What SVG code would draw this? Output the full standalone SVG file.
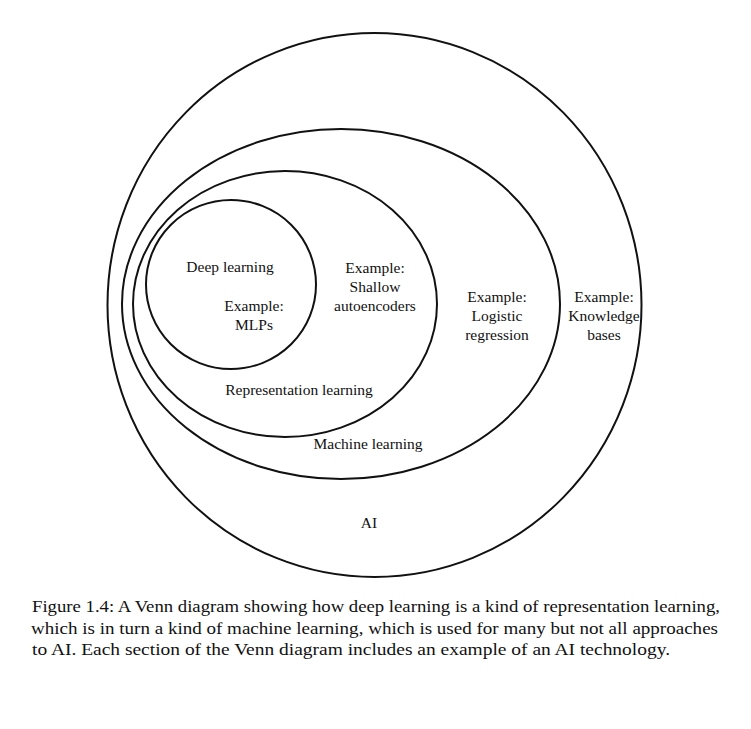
<svg xmlns="http://www.w3.org/2000/svg" width="751" height="729" viewBox="0 0 751 729">
<style>
.e{fill:none;stroke:#111;stroke-width:2}
.t{font-family:"Liberation Serif","Times New Roman",serif;font-size:15.5px;fill:#111;text-anchor:middle}
.c{font-family:"Liberation Serif","Times New Roman",serif;font-size:17px;fill:#111}
</style>
<rect width="751" height="729" fill="#fff"/>
<g id="ai">
<ellipse class="e" cx="374.5" cy="305" rx="267" ry="272"/>
<text class="t" x="369" y="528">AI</text>
<text class="t" x="604" y="302">Example:</text>
<text class="t" x="604" y="321">Knowledge</text>
<text class="t" x="604" y="340">bases</text>
</g>
<g id="ml">
<ellipse class="e" cx="341" cy="304" rx="219" ry="175"/>
<text class="t" x="368" y="449">Machine learning</text>
<text class="t" x="497" y="302">Example:</text>
<text class="t" x="497" y="321">Logistic</text>
<text class="t" x="497" y="340">regression</text>
</g>
<g id="rl">
<ellipse class="e" cx="285" cy="304" rx="152" ry="133"/>
<text class="t" x="299" y="395">Representation learning</text>
<text class="t" x="375" y="273">Example:</text>
<text class="t" x="375" y="292">Shallow</text>
<text class="t" x="375" y="311">autoencoders</text>
</g>
<g id="dl">
<ellipse class="e" cx="231" cy="284.5" rx="85" ry="84.5"/>
<text class="t" x="230" y="272">Deep learning</text>
<text class="t" x="254" y="311">Example:</text>
<text class="t" x="254" y="330">MLPs</text>
</g>
<g id="connectors"/>
<g id="caption">
<text class="c" x="32" y="612" textLength="688" lengthAdjust="spacingAndGlyphs">Figure 1.4: A Venn diagram showing how deep learning is a kind of representation learning,</text>
<text class="c" x="31" y="634" textLength="687" lengthAdjust="spacingAndGlyphs">which is in turn a kind of machine learning, which is used for many but not all approaches</text>
<text class="c" x="32" y="655" textLength="638" lengthAdjust="spacingAndGlyphs">to AI. Each section of the Venn diagram includes an example of an AI technology.</text>
</g>
</svg>
